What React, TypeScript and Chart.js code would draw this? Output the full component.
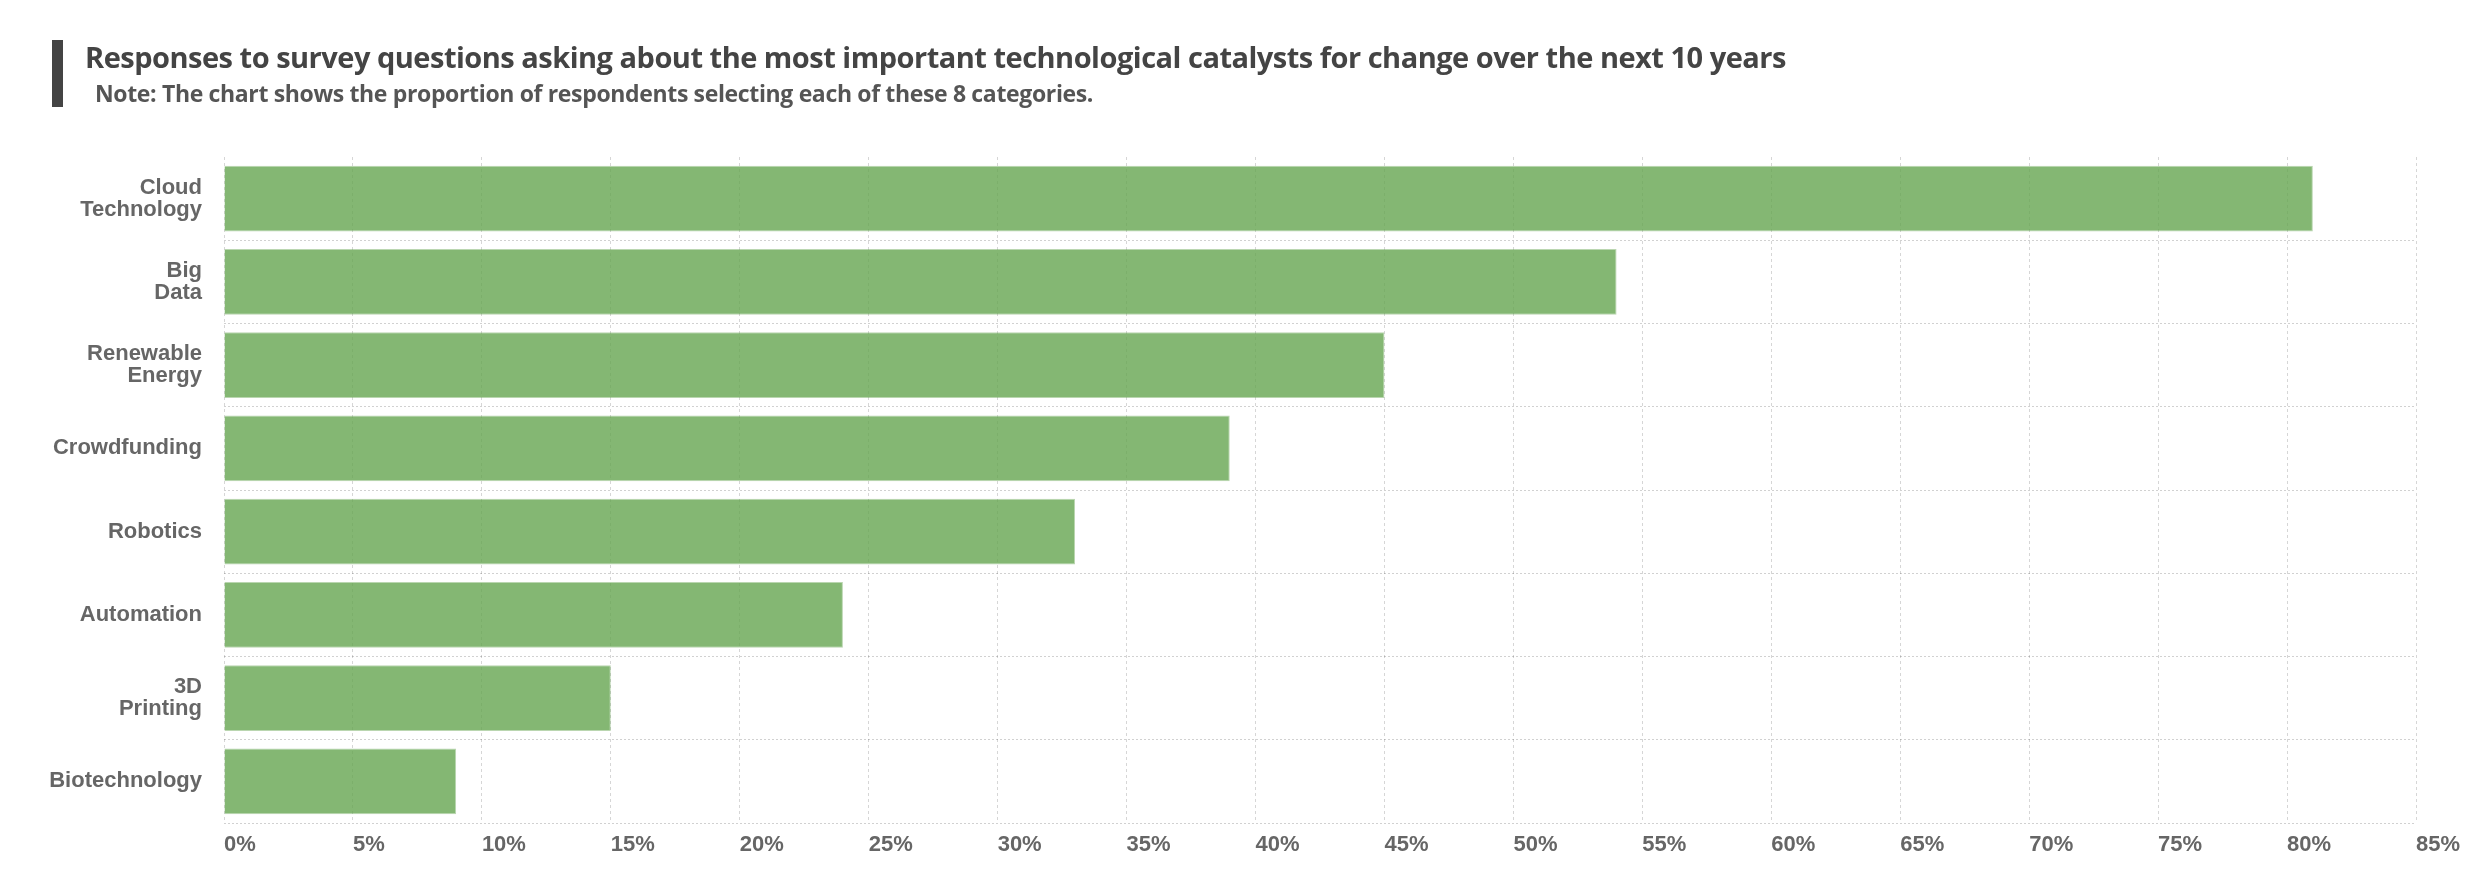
import React, { useEffect, useRef } from "react";
import { Chart, registerables } from "chart.js";

Chart.register(...registerables);

const categories: (string | string[])[] = [
  ["Cloud", "Technology"],
  ["Big", "Data"],
  ["Renewable", "Energy"],
  "Crowdfunding",
  "Robotics",
  "Automation",
  ["3D", "Printing"],
  "Biotechnology",
];
const shares: number[] = [81, 54, 45, 39, 33, 24, 15, 9];
const xTickValues: number[] = [0, 5, 10, 15, 20, 25, 30, 35, 40, 45, 50, 55, 60, 65, 70, 75, 80, 85];

const titleText =
  "Responses to survey questions asking about the most important technological catalysts for change over the next 10 years";
const noteText = "Note: The chart shows the proportion of respondents selecting each of these 8 categories.";

export default function App() {
  const canvasRef = useRef<HTMLCanvasElement | null>(null);

  useEffect(() => {
    document.body.style.margin = "0";
    const canvas = canvasRef.current;
    if (!canvas) return;
    const chart = new Chart(canvas, {
      type: "bar",
      data: {
        labels: categories as any,
        datasets: [
          {
            data: shares,
            backgroundColor: "rgba(101,165,80,0.8)",
            borderColor: "rgba(101,165,80,0.45)",
            borderWidth: 1,
            barPercentage: 1,
            categoryPercentage: 0.79,
          },
        ],
      },
      options: {
        indexAxis: "y",
        responsive: false,
        animation: false,
        maintainAspectRatio: false,
        layout: { padding: { left: 0, top: 157, right: 60, bottom: 0 } },
        plugins: {
          legend: { display: false },
          tooltip: { enabled: false },
          title: { display: false },
        },
        scales: {
          x: {
            type: "linear",
            min: 0,
            max: 85,
            afterBuildTicks: (scale: any) => {
              scale.ticks = xTickValues.map((v) => ({ value: v }));
            },
            afterFit: (scale: any) => {
              scale.height = 49;
            },
            grid: {
              color: "rgba(0,0,0,0.16)",
              lineWidth: 1,
              drawTicks: false,
            },
            border: { display: false, dash: [3, 3] },
            ticks: {
              align: "start",
              padding: 9,
              color: "#666",
              font: { family: "'Liberation Sans', Arial, sans-serif", size: 22, weight: "bold" },
              callback: (v: any) => `${v}%`,
            },
          },
          y: {
            afterFit: (scale: any) => {
              scale.width = 224;
            },
            grid: {
              color: (ctx: any) => (ctx.index === 0 ? "rgba(0,0,0,0)" : "rgba(0,0,0,0.18)"),
              lineWidth: 1,
              drawTicks: false,
            },
            border: { display: false, dash: [2, 2] },
            ticks: {
              padding: 22,
              color: "#666",
              font: { family: "'Liberation Sans', Arial, sans-serif", size: 22, weight: "bold", lineHeight: 1.0 },
            },
          },
        },
      } as any,
    });
    return () => chart.destroy();
  }, []);

  return (
    <div style={{ position: "relative", width: 2476, height: 872, background: "#fff", overflow: "hidden" }}>
      <canvas
        ref={canvasRef}
        width={2476}
        height={872}
        style={{ position: "absolute", left: 0, top: 0, width: 2476, height: 872 }}
      />
      <div style={{ position: "absolute", left: 52, top: 40, width: 11, height: 67, background: "#444" }} />
      <div
        style={{
          position: "absolute",
          left: 85,
          top: 39,
          fontFamily: "'Open Sans', sans-serif",
          fontWeight: 700,
          fontSize: 29,
          letterSpacing: "-0.5px",
          lineHeight: "36px",
          color: "#444",
          whiteSpace: "nowrap",
        }}
      >
        {titleText}
      </div>
      <div
        style={{
          position: "absolute",
          left: 95,
          top: 79,
          fontFamily: "'Open Sans', sans-serif",
          fontWeight: 700,
          fontSize: 23,
          letterSpacing: "-0.35px",
          lineHeight: "28px",
          color: "#555",
          whiteSpace: "nowrap",
        }}
      >
        {noteText}
      </div>
    </div>
  );
}
